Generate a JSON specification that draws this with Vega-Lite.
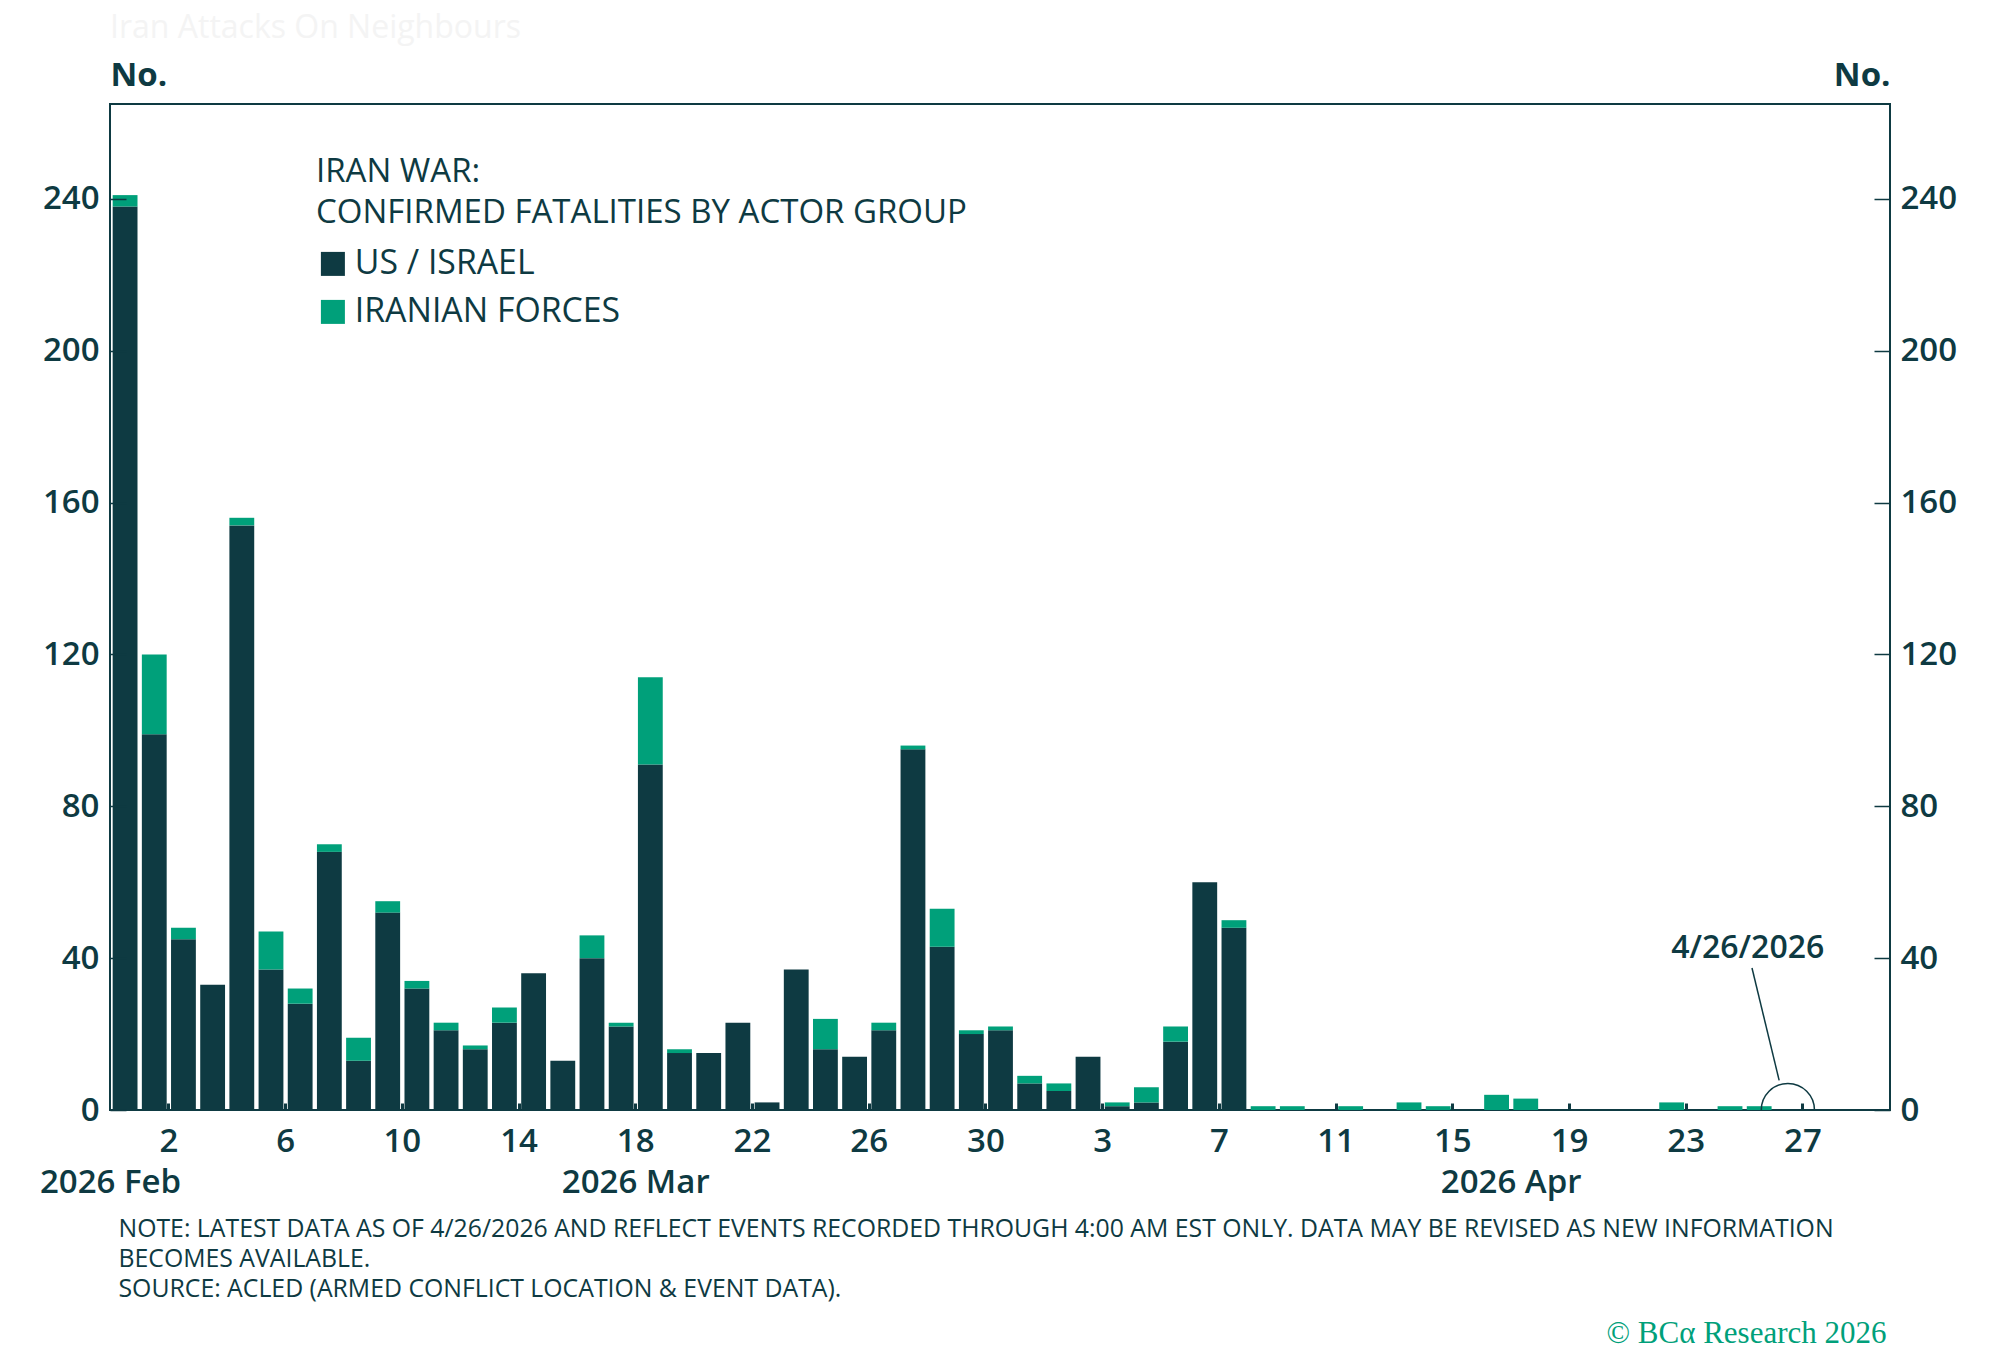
{
  "$schema": "https://vega.github.io/schema/vega-lite/v6.json",
  "width": 1780,
  "height": 1006,
  "autosize": {"type": "none"},
  "padding": {"left": 110, "top": 104, "right": 110, "bottom": 240},
  "background": "white",
  "title": {"text": "Iran Attacks On Neighbours", "anchor": "start", "frame": "group", "color": "#f4f4f4", "fontSize": 32, "fontWeight": "normal", "font": "Open Sans", "offset": 14},
  "datasets": {
    "fatalities": [
      {"date": "2026/02/28", "group": "US / ISRAEL", "value": 238},
      {"date": "2026/02/28", "group": "IRANIAN FORCES", "value": 3},
      {"date": "2026/03/01", "group": "US / ISRAEL", "value": 99},
      {"date": "2026/03/01", "group": "IRANIAN FORCES", "value": 21},
      {"date": "2026/03/02", "group": "US / ISRAEL", "value": 45},
      {"date": "2026/03/02", "group": "IRANIAN FORCES", "value": 3},
      {"date": "2026/03/03", "group": "US / ISRAEL", "value": 33},
      {"date": "2026/03/04", "group": "US / ISRAEL", "value": 154},
      {"date": "2026/03/04", "group": "IRANIAN FORCES", "value": 2},
      {"date": "2026/03/05", "group": "US / ISRAEL", "value": 37},
      {"date": "2026/03/05", "group": "IRANIAN FORCES", "value": 10},
      {"date": "2026/03/06", "group": "US / ISRAEL", "value": 28},
      {"date": "2026/03/06", "group": "IRANIAN FORCES", "value": 4},
      {"date": "2026/03/07", "group": "US / ISRAEL", "value": 68},
      {"date": "2026/03/07", "group": "IRANIAN FORCES", "value": 2},
      {"date": "2026/03/08", "group": "US / ISRAEL", "value": 13},
      {"date": "2026/03/08", "group": "IRANIAN FORCES", "value": 6},
      {"date": "2026/03/09", "group": "US / ISRAEL", "value": 52},
      {"date": "2026/03/09", "group": "IRANIAN FORCES", "value": 3},
      {"date": "2026/03/10", "group": "US / ISRAEL", "value": 32},
      {"date": "2026/03/10", "group": "IRANIAN FORCES", "value": 2},
      {"date": "2026/03/11", "group": "US / ISRAEL", "value": 21},
      {"date": "2026/03/11", "group": "IRANIAN FORCES", "value": 2},
      {"date": "2026/03/12", "group": "US / ISRAEL", "value": 16},
      {"date": "2026/03/12", "group": "IRANIAN FORCES", "value": 1},
      {"date": "2026/03/13", "group": "US / ISRAEL", "value": 23},
      {"date": "2026/03/13", "group": "IRANIAN FORCES", "value": 4},
      {"date": "2026/03/14", "group": "US / ISRAEL", "value": 36},
      {"date": "2026/03/15", "group": "US / ISRAEL", "value": 13},
      {"date": "2026/03/16", "group": "US / ISRAEL", "value": 40},
      {"date": "2026/03/16", "group": "IRANIAN FORCES", "value": 6},
      {"date": "2026/03/17", "group": "US / ISRAEL", "value": 22},
      {"date": "2026/03/17", "group": "IRANIAN FORCES", "value": 1},
      {"date": "2026/03/18", "group": "US / ISRAEL", "value": 91},
      {"date": "2026/03/18", "group": "IRANIAN FORCES", "value": 23},
      {"date": "2026/03/19", "group": "US / ISRAEL", "value": 15},
      {"date": "2026/03/19", "group": "IRANIAN FORCES", "value": 1},
      {"date": "2026/03/20", "group": "US / ISRAEL", "value": 15},
      {"date": "2026/03/21", "group": "US / ISRAEL", "value": 23},
      {"date": "2026/03/22", "group": "US / ISRAEL", "value": 2},
      {"date": "2026/03/23", "group": "US / ISRAEL", "value": 37},
      {"date": "2026/03/24", "group": "US / ISRAEL", "value": 16},
      {"date": "2026/03/24", "group": "IRANIAN FORCES", "value": 8},
      {"date": "2026/03/25", "group": "US / ISRAEL", "value": 14},
      {"date": "2026/03/26", "group": "US / ISRAEL", "value": 21},
      {"date": "2026/03/26", "group": "IRANIAN FORCES", "value": 2},
      {"date": "2026/03/27", "group": "US / ISRAEL", "value": 95},
      {"date": "2026/03/27", "group": "IRANIAN FORCES", "value": 1},
      {"date": "2026/03/28", "group": "US / ISRAEL", "value": 43},
      {"date": "2026/03/28", "group": "IRANIAN FORCES", "value": 10},
      {"date": "2026/03/29", "group": "US / ISRAEL", "value": 20},
      {"date": "2026/03/29", "group": "IRANIAN FORCES", "value": 1},
      {"date": "2026/03/30", "group": "US / ISRAEL", "value": 21},
      {"date": "2026/03/30", "group": "IRANIAN FORCES", "value": 1},
      {"date": "2026/03/31", "group": "US / ISRAEL", "value": 7},
      {"date": "2026/03/31", "group": "IRANIAN FORCES", "value": 2},
      {"date": "2026/04/01", "group": "US / ISRAEL", "value": 5},
      {"date": "2026/04/01", "group": "IRANIAN FORCES", "value": 2},
      {"date": "2026/04/02", "group": "US / ISRAEL", "value": 14},
      {"date": "2026/04/03", "group": "US / ISRAEL", "value": 1},
      {"date": "2026/04/03", "group": "IRANIAN FORCES", "value": 1},
      {"date": "2026/04/04", "group": "US / ISRAEL", "value": 2},
      {"date": "2026/04/04", "group": "IRANIAN FORCES", "value": 4},
      {"date": "2026/04/05", "group": "US / ISRAEL", "value": 18},
      {"date": "2026/04/05", "group": "IRANIAN FORCES", "value": 4},
      {"date": "2026/04/06", "group": "US / ISRAEL", "value": 60},
      {"date": "2026/04/07", "group": "US / ISRAEL", "value": 48},
      {"date": "2026/04/07", "group": "IRANIAN FORCES", "value": 2},
      {"date": "2026/04/08", "group": "IRANIAN FORCES", "value": 1},
      {"date": "2026/04/09", "group": "IRANIAN FORCES", "value": 1},
      {"date": "2026/04/11", "group": "IRANIAN FORCES", "value": 1},
      {"date": "2026/04/13", "group": "IRANIAN FORCES", "value": 2},
      {"date": "2026/04/14", "group": "IRANIAN FORCES", "value": 1},
      {"date": "2026/04/16", "group": "IRANIAN FORCES", "value": 4},
      {"date": "2026/04/17", "group": "IRANIAN FORCES", "value": 3},
      {"date": "2026/04/22", "group": "IRANIAN FORCES", "value": 2},
      {"date": "2026/04/24", "group": "IRANIAN FORCES", "value": 1},
      {"date": "2026/04/25", "group": "IRANIAN FORCES", "value": 1}
    ],
    "marker": [{"date": "2026/04/26 12:00", "value": 0}],
    "leader": [{"date": "2026/04/25 06:30", "date2": "2026/04/26 04:50", "value": 37.4, "value2": 7.8}],
    "callout": [{"date": "2026/04/25 03:00", "value": 42.6, "label": "4/26/2026"}]
  },
  "layer": [
    {
      "data": {"name": "fatalities"},
      "mark": {"type": "bar", "width": {"band": 0.885}},
      "encoding": {
        "x": {
          "field": "date", "type": "temporal", "timeUnit": "yearmonthdate",
          "scale": {"domain": [{"year": 2026, "month": 2, "date": 28}, {"year": 2026, "month": 4, "date": 30}], "nice": false},
          "axis": {
            "orient": "bottom",
            "values": [
              {"year": 2026, "month": 3, "date": 2}, {"year": 2026, "month": 3, "date": 6}, {"year": 2026, "month": 3, "date": 10},
              {"year": 2026, "month": 3, "date": 14}, {"year": 2026, "month": 3, "date": 18}, {"year": 2026, "month": 3, "date": 22},
              {"year": 2026, "month": 3, "date": 26}, {"year": 2026, "month": 3, "date": 30}, {"year": 2026, "month": 4, "date": 3},
              {"year": 2026, "month": 4, "date": 7}, {"year": 2026, "month": 4, "date": 11}, {"year": 2026, "month": 4, "date": 15},
              {"year": 2026, "month": 4, "date": 19}, {"year": 2026, "month": 4, "date": 23}, {"year": 2026, "month": 4, "date": 27}
            ],
            "format": "%-d",
            "labelFontSize": 33, "labelFontWeight": 600, "labelColor": "#0e3a42",
            "labelFlush": false, "labelOverlap": false, "labelBound": false,
            "tickSize": -7, "tickWidth": 3, "tickColor": "#0e3a42",
            "labelPadding": 22,
            "domain": false, "grid": false, "zindex": 1,
            "title": [
              "NOTE: LATEST DATA AS OF 4/26/2026 AND REFLECT EVENTS RECORDED THROUGH 4:00 AM EST ONLY. DATA MAY BE REVISED AS NEW INFORMATION",
              "BECOMES AVAILABLE.",
              "SOURCE: ACLED (ARMED CONFLICT LOCATION & EVENT DATA)."
            ],
            "titleX": 8, "titleY": 106, "titleAlign": "left", "titleAnchor": "start", "titleBaseline": "top",
            "titleFontSize": 24.8, "titleFontWeight": "normal", "titleColor": "#0e3a42", "titleLineHeight": 30, "titleLimit": 3000
          }
        },
        "y": {
          "field": "value", "type": "quantitative", "stack": "zero",
          "scale": {"domain": [0, 265], "nice": false},
          "axis": {
            "orient": "left", "values": [0, 40, 80, 120, 160, 200, 240],
            "title": "No.", "titleAngle": 0, "titleX": 0, "titleY": -19, "titleAlign": "left", "titleBaseline": "alphabetic",
            "titleFontSize": 33, "titleFontWeight": "bold", "titleColor": "#0e3a42",
            "labelFontSize": 33, "labelFontWeight": 600, "labelColor": "#0e3a42",
            "tickSize": -16, "tickWidth": 1.5, "tickColor": "#0e3a42", "labelPadding": 27,
            "domain": false, "grid": false, "zindex": 1
          }
        },
        "color": {
          "field": "group", "type": "nominal",
          "scale": {"domain": ["US / ISRAEL", "IRANIAN FORCES"], "range": ["#0e3a42", "#00a07a"]},
          "legend": {
            "orient": "none", "legendX": 206, "legendY": 52, "padding": 0,
            "title": ["IRAN WAR:", "CONFIRMED FATALITIES BY ACTOR GROUP"],
            "titleFontSize": 33, "titleFontWeight": 500, "titleColor": "#0e3a42", "titleLineHeight": 41,
            "titlePadding": 17, "titleLimit": 2000,
            "labelFontSize": 33.8, "labelFontWeight": 500, "labelColor": "#0e3a42", "labelLimit": 2000, "labelOffset": 5,
            "symbolType": "square", "symbolSize": 576, "symbolStrokeWidth": 0, "symbolOpacity": 1,
            "rowPadding": 13
          }
        },
        "order": {"field": "group", "sort": "descending"}
      }
    },
    {
      "data": {"name": "marker"},
      "mark": {"type": "point", "shape": "circle", "filled": false, "size": 2827, "stroke": "#0e3a42", "strokeWidth": 1.5, "opacity": 1, "clip": true},
      "encoding": {
        "x": {
          "field": "date", "type": "temporal",
          "scale": {"domain": [{"year": 2026, "month": 2, "date": 28}, {"year": 2026, "month": 4, "date": 30}], "nice": false},
          "axis": {
            "orient": "bottom",
            "values": [{"year": 2026, "month": 2, "date": 28}, {"year": 2026, "month": 3, "date": 18}, {"year": 2026, "month": 4, "date": 17}],
            "format": "%Y %b",
            "labelFontSize": 33, "labelFontWeight": 600, "labelColor": "#0e3a42",
            "labelFlush": false, "labelOverlap": false, "labelBound": false,
            "ticks": false, "tickSize": 0, "labelPadding": 56,
            "domain": false, "grid": false,
            "title": "© BCα Research 2026",
            "titleX": 1776, "titleY": 232, "titleAlign": "right", "titleAnchor": "end", "titleBaseline": "alphabetic",
            "titleFont": "Liberation Serif", "titleFontSize": 31, "titleFontWeight": "normal", "titleColor": "#00a07a"
          }
        },
        "y": {
          "field": "value", "type": "quantitative",
          "scale": {"domain": [0, 265], "nice": false},
          "axis": {
            "orient": "right", "values": [0, 40, 80, 120, 160, 200, 240],
            "title": "No.", "titleAngle": 0, "titleX": 0, "titleY": -19, "titleAlign": "right", "titleBaseline": "alphabetic",
            "titleFontSize": 33, "titleFontWeight": "bold", "titleColor": "#0e3a42",
            "labelFontSize": 33, "labelFontWeight": 600, "labelColor": "#0e3a42",
            "tickSize": -16, "tickWidth": 1.5, "tickColor": "#0e3a42", "labelPadding": 26,
            "domain": false, "grid": false, "zindex": 1
          }
        }
      }
    },
    {
      "data": {"name": "leader"},
      "mark": {"type": "rule", "stroke": "#0e3a42", "strokeWidth": 1.5},
      "encoding": {
        "x": {"field": "date", "type": "temporal", "axis": null, "scale": {"domain": [{"year": 2026, "month": 2, "date": 28}, {"year": 2026, "month": 4, "date": 30}], "nice": false}},
        "x2": {"field": "date2"},
        "y": {"field": "value", "type": "quantitative", "axis": null, "scale": {"domain": [0, 265], "nice": false}},
        "y2": {"field": "value2"}
      }
    },
    {
      "data": {"name": "callout"},
      "mark": {"type": "text", "fontSize": 32, "fontWeight": 600, "color": "#0e3a42", "align": "center", "baseline": "middle"},
      "encoding": {
        "x": {"field": "date", "type": "temporal", "axis": null, "scale": {"domain": [{"year": 2026, "month": 2, "date": 28}, {"year": 2026, "month": 4, "date": 30}], "nice": false}},
        "y": {"field": "value", "type": "quantitative", "axis": null, "scale": {"domain": [0, 265], "nice": false}},
        "text": {"field": "label"}
      }
    }
  ],
  "resolve": {"axis": {"x": "independent", "y": "independent"}},
  "config": {
    "font": "Open Sans",
    "view": {"stroke": "#0e3a42", "strokeWidth": 2},
    "axis": {"labelFont": "Open Sans", "titleFont": "Open Sans"},
    "legend": {"labelFont": "Open Sans", "titleFont": "Open Sans"}
  }
}
